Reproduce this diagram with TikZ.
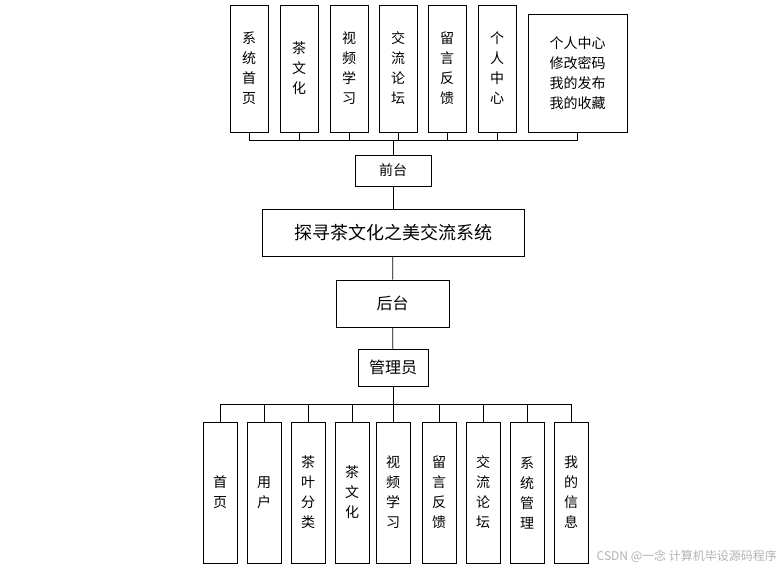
\documentclass[tikz,border=0pt]{standalone}
\usepackage{fontspec}
\newfontfamily\cjk{Noto Sans CJK SC}
\begin{document}
\begin{tikzpicture}[x=1pt,y=-1pt,
  box/.style={draw,line width=0.8pt,inner sep=0pt,align=center,font=\cjk\fontsize{14}{20}\selectfont},
  vbox/.style={box,minimum width=34pt,minimum height=141pt},
  tbox/.style={box,minimum width=38pt,minimum height=127pt},
  ln/.style={line width=0.8pt}]
\useasboundingbox (0,0) rectangle (780,571);
% top
\node[tbox] (t1) at (249,68.5) {系\\统\\首\\页};
\node[tbox] (t2) at (299,68.5) {茶\\文\\化};
\node[tbox] (t3) at (349,68.5) {视\\频\\学\\习};
\node[tbox] (t4) at (398,68.5) {交\\流\\论\\坛};
\node[tbox] (t5) at (447,68.5) {留\\言\\反\\馈};
\node[tbox] (t6) at (497,68.5) {个\\人\\中\\心};
\node[box,minimum width=99pt,minimum height=118pt] (t7) at (577.5,73) {个人中心\\修改密码\\我的发布\\我的收藏};
\coordinate (bus) at (393,140);
\foreach \n in {t1,t2,t3,t4,t5,t6,t7} \draw[ln] (\n.south) -- (\n.south |- bus);
\draw[ln] (t1.south |- bus) -- (t7.south |- bus);
\node[box,minimum width=76pt,minimum height=31pt] (qt) at (393,170.5) {前台};
\draw[ln] (bus) -- (qt.north);
\node[box,minimum width=262pt,minimum height=47pt,font=\cjk\fontsize{18}{22}\selectfont] (main) at (393,232.5) {探寻茶文化之美交流系统};
\node[box,minimum width=113pt,minimum height=47pt,font=\cjk\fontsize{16}{20}\selectfont] (ht) at (392.5,303.5) {后台};
\node[box,minimum width=70pt,minimum height=37pt,font=\cjk\fontsize{16}{20}\selectfont] (gl) at (393,367.5) {管理员};
\draw[ln] (qt) -- (main);
\draw[ln] (main) -- (ht);
\draw[ln] (ht) -- (gl);
% bottom
\node[vbox] (b1) at (220,492.5) {首\\页};
\node[vbox] (b2) at (264,492.5) {用\\户};
\node[vbox] (b3) at (308,492.5) {茶\\叶\\分\\类};
\node[vbox] (b4) at (352,492.5) {茶\\文\\化};
\node[vbox] (b5) at (393,492.5) {视\\频\\学\\习};
\node[vbox] (b6) at (439,492.5) {留\\言\\反\\馈};
\node[vbox] (b7) at (483,492.5) {交\\流\\论\\坛};
\node[vbox] (b8) at (527,492.5) {系\\统\\管\\理};
\node[vbox] (b9) at (571,492.5) {我\\的\\信\\息};
\coordinate (bus2) at (393,404);
\draw[ln] (gl.south) -- (bus2);
\foreach \n in {b1,b2,b3,b4,b5,b6,b7,b8,b9} \draw[ln] (\n.north) -- (\n.north |- bus2);
\draw[ln] (b1.north |- bus2) -- (b9.north |- bus2);
\node[anchor=east,text=black!30,font=\cjk\fontsize{12}{14}\selectfont,inner sep=0pt] (wm) at (777,556) {CSDN @一念 计算机毕设源码程序};
\end{tikzpicture}
\end{document}
